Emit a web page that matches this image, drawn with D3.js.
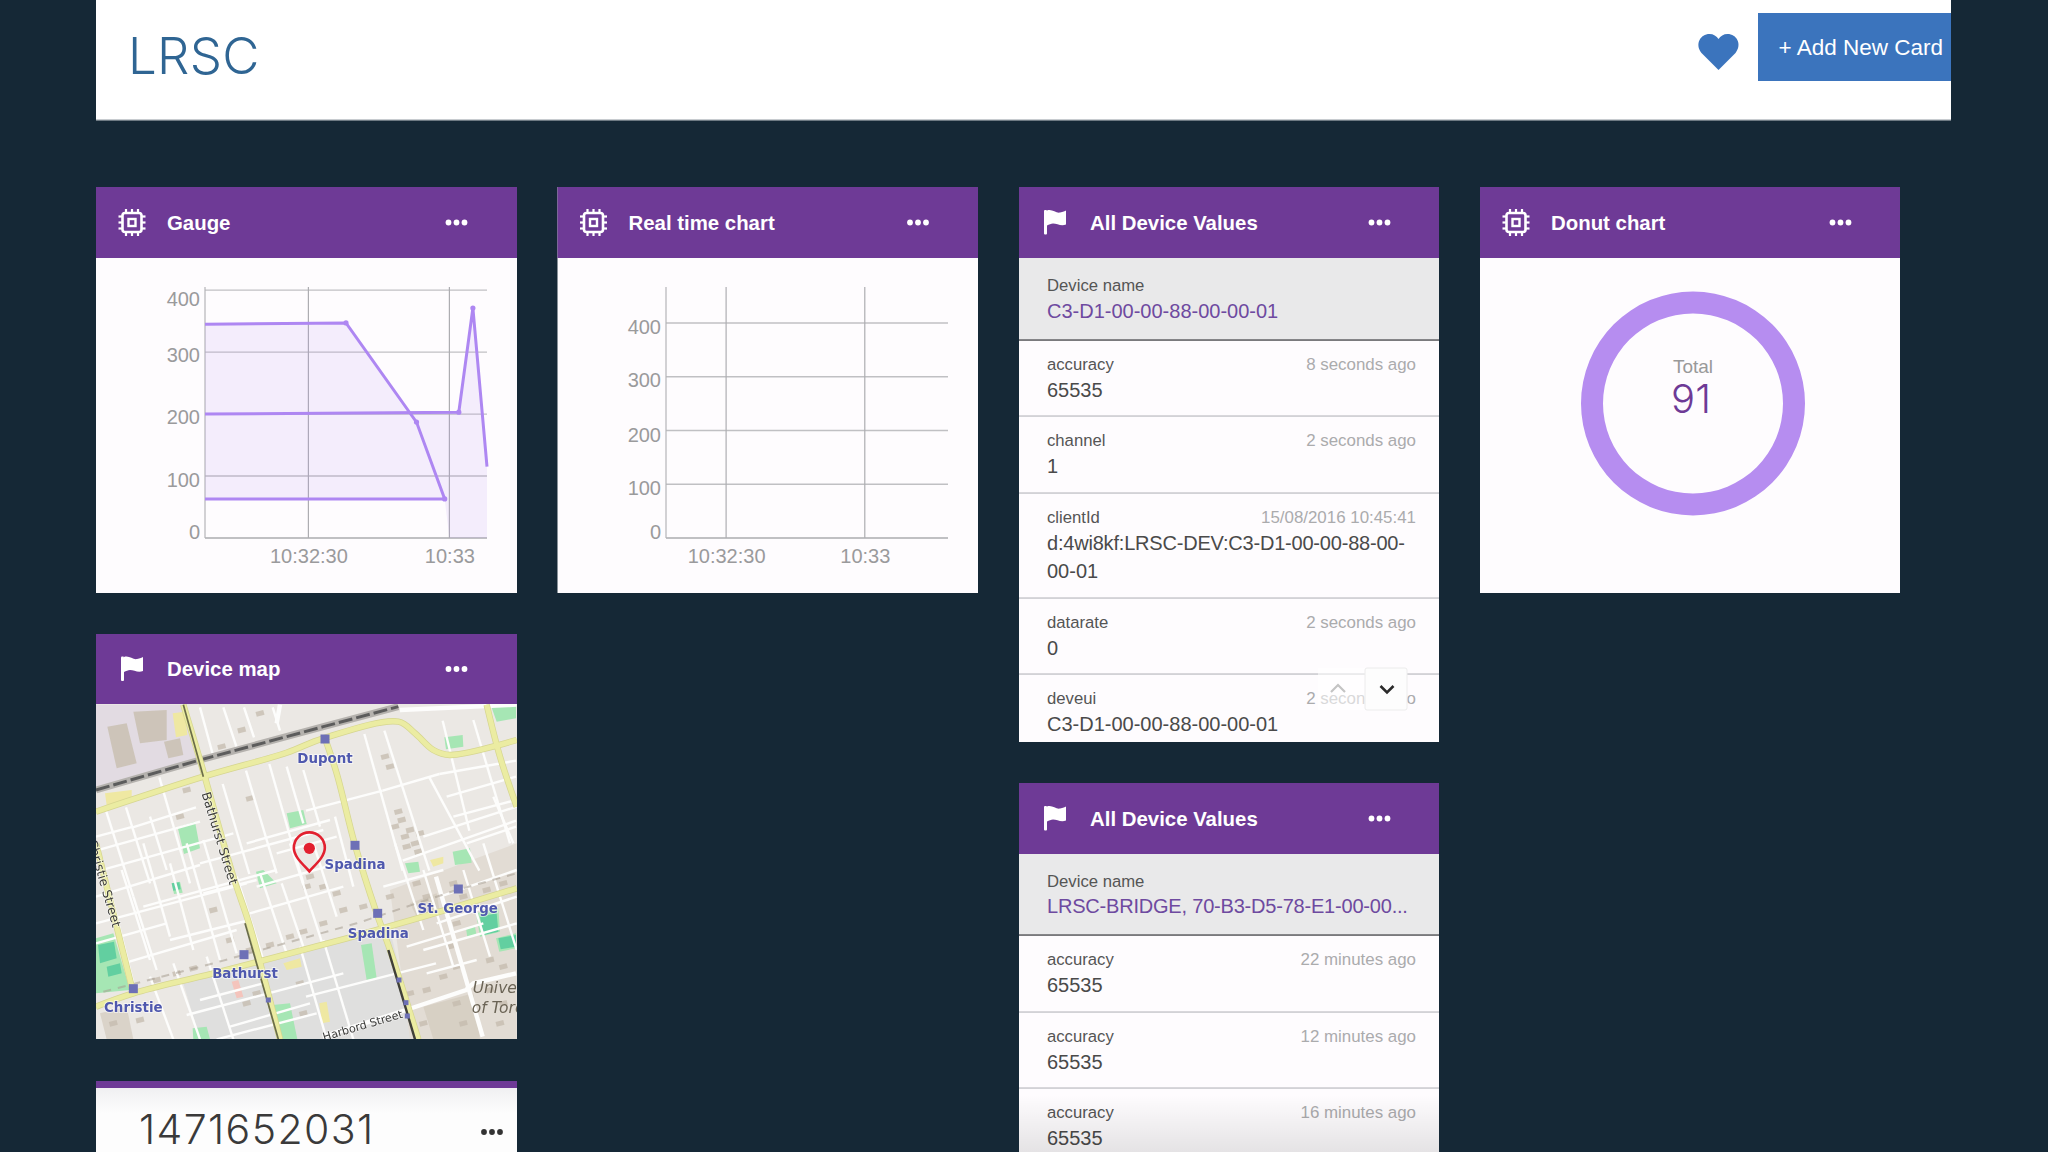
<!DOCTYPE html>
<html><head><meta charset="utf-8">
<script src="https://cdnjs.cloudflare.com/ajax/libs/d3/7.8.5/d3.min.js"></script>
<style>
html,body{margin:0;padding:0;background:#152836;overflow:hidden}
text{font-family:"Liberation Sans",Arial,sans-serif}
</style></head><body><svg id="c" width="2048" height="1152" xmlns="http://www.w3.org/2000/svg"></svg>
<script>
// ---------- chart data ----------
const yTicks = [0,100,200,300,400];
const xTickTimes = ["10:32:30","10:33:00"];
const xTickLabels = ["10:32:30","10:33"];
const lineTopTimes = ["10:32:08","10:32:38","10:32:53","10:32:59"];
const lineTopValues = [345,347,187,63];
const lineLowTimes = ["10:32:08","10:32:59"];
const lineLowValues = [63,63];
const lineMidTimes = ["10:32:08","10:33:02","10:33:05","10:33:08"];
const lineMidValues = [200,203,371,115];
const fillTimes = ["10:32:08","10:32:38","10:32:51","10:32:59","10:33:00","10:33:02","10:33:05","10:33:08"];
const fillLow = [63,63,63,63,0,0,0,0];
const fillHigh = [345,347,203,203,203,203,371,115];
const markTimes = ["10:32:38","10:32:53","10:32:59","10:33:02","10:33:05"];
const markValues = [347,187,63,203,371];
const donutValues = [91];
const donutTotalLabel = "Total";
const cardTitles = ["Gauge","Real time chart","All Device Values","Donut chart","Device map","All Device Values"];
const device1Name = "C3-D1-00-00-88-00-00-01";
const device1Keys = ["accuracy","channel","clientId","datarate","deveui"];
const device1Vals = [["65535"],["1"],["d:4wi8kf:LRSC-DEV:C3-D1-00-00-88-00-","00-01"],["0"],["C3-D1-00-00-88-00-00-01"]];
const device1Times = ["8 seconds ago","2 seconds ago","15/08/2016 10:45:41","2 seconds ago","2 seconds ago"];
const device2Name = "LRSC-BRIDGE, 70-B3-D5-78-E1-00-00...";
const device2Keys = ["accuracy","accuracy","accuracy"];
const device2Vals = [["65535"],["65535"],["65535"]];
const device2Times = ["22 minutes ago","12 minutes ago","16 minutes ago"];

// ---------- map content (reference grid units) ----------
const mapYellowRoads = [
 [[18,545],[340,440],[590,368],[700,325],[925,275],[975,310],[1030,360],[1080,375],[1280,330]],
 [[705,325],[740,430],[795,645],[860,850],[900,960],[985,1228]],
 [[280,224],[330,390],[430,740],[480,890],[570,1228]],
 [[18,1130],[130,1090],[370,1030],[770,925],[1000,860],[1280,775]],
 [[18,640],[70,850],[130,1090]],
 [[1190,224],[1230,380],[1280,530]]
];
const mapNS = [[48,542,130,800],[108,532,180,760],[160,640,240,920],[208,442,300,760],[290,640,390,990],[340,630,440,970],
 [398,462,478,732],[468,422,560,730],[538,402,640,760],[600,640,700,950],[670,640,740,860],[735,560,790,770],
 [823,312,938,722],[883,302,1018,722],[915,640,1000,900],[1018,442,1168,722],[1058,272,1138,602],
 [180,1040,250,1228],[250,1000,330,1228],[350,980,430,1228],[630,950,710,1228],[700,930,790,1228],[1150,270,1260,640],
 [330,232,368,372],[400,232,440,352],[462,232,492,322],[548,232,570,302],[95,720,180,990],
 [440,740,520,990],[510,730,590,970],[575,760,640,950],[640,420,690,590],[590,410,640,580],
 [60,780,130,1060],[130,800,200,1020],[240,700,310,960],[180,560,230,720],
 [1000,720,1090,1010],[1120,720,1200,980],[1180,640,1280,960],[1210,500,1270,640]];
const mapEW = [[128,592,318,532],[18,662,330,575],[18,725,430,610],[18,800,330,705],[160,830,560,720],[18,880,470,760],
 [470,640,720,570],[648,542,878,482],[878,482,1048,432],[1048,432,1278,392],[1070,500,1278,440],[1090,560,1278,510],[1130,640,1278,590],
 [938,692,1278,572],[500,770,780,690],[240,930,480,870],[100,1000,440,900],[880,770,1060,720],
 [290,1155,760,1030],[648,1100,1038,1000],[380,1228,680,1150],[950,950,1180,880],[1010,1030,1160,990],
 [18,620,130,590],[330,700,700,600],[480,850,760,770],[18,940,230,880],[560,670,740,620],[340,790,500,750],
 [1000,620,1280,530],[1050,800,1280,720],[1040,880,1280,800],[1000,960,1280,880],[330,1110,520,1060],[420,1190,660,1120]];
const mapThickWhite = [[[1038,740],[1178,1220]],[[698,1220],[948,1140],[1128,1080],[1150,1060],[1278,1030]],[[930,240],[1280,224]],[[560,280],[570,224]]];
const mapParks = [
 [[263,592],[315,575],[330,655],[282,672]],[[590,550],[640,540],[650,582],[600,595]],[[245,760],[270,755],[278,788],[252,792]],
 [[498,725],[520,720],[560,760],[510,775]],[[18,925],[70,910],[120,1080],[18,1090]],[[548,1125],[600,1120],[622,1228],[565,1228]],
 [[308,1195],[350,1190],[360,1228],[310,1228]],[[1158,850],[1225,835],[1230,905],[1170,920]],[[1218,925],[1278,910],[1278,955],[1228,965]],
 [[1128,895],[1155,890],[1160,918],[1132,922]],[[1063,322],[1118,315],[1120,350],[1068,358]],[[1088,665],[1140,655],[1145,698],[1095,705]],
 [[1203,227],[1278,227],[1278,265],[1220,275]],[[813,945],[845,940],[860,1045],[830,1050]],[[945,700],[985,695],[990,725],[955,730]]];
const mapDarkParks = [[[24,945],[72,935],[80,985],[30,1000]],[[50,1010],[90,1000],[95,1030],[55,1040]],[[1170,860],[1220,850],[1225,905],[1180,915]],[[1225,925],[1278,915],[1278,950],[1232,958]],[[245,760],[268,757],[272,778],[250,782]]];
const mapTan = [[[52,290],[110,280],[140,400],[80,415]],[[130,245],[230,240],[230,330],[150,340]],[[222,335],[270,325],[280,375],[235,385]]];
const mapTanSoft = [[[1000,1130],[1150,1090],[1170,1228],[1030,1228]],[[30,1150],[110,1130],[130,1228],[50,1228]],[[960,820],[1040,790],[1050,850],[980,860]]];
const mapYellowBlocks = [[[248,250],[285,245],[292,315],[258,322]],[[45,490],[125,480],[125,505],[50,525]],[[688,1120],[710,1115],[720,1175],[695,1180]],[[580,1000],[630,985],[635,1010],[590,1020]],[[1020,690],[1060,680],[1060,700],[1030,710]]];
const mapPinkBlocks = [[[425,1055],[445,1050],[460,1100],[440,1105]]];
const mapSmallBlocks = [[915,590],[935,570],[945,620],[960,600],[950,650],[975,640],[985,665],[990,610],[925,545],[885,380],[900,410],
 [1090,760],[1120,800],[1190,780],[1240,760],[1100,880],[1080,950],[1200,990],[1240,1010],[1100,1010],[1060,1040],[1200,1080],[1240,1120],[1230,1180],[1100,1120],[1120,1180],
 [980,760],[1010,800],[900,800],[820,830],[760,840],[700,880],[640,905],[600,920],[540,945],[480,960],[310,1015],[260,1030],[200,1050],
 [480,505],[270,560],[290,480],[395,350],[455,300],[510,250],[650,770],[700,770],[740,790],[660,740],[500,1090],[470,1120],[630,1060],[640,1150],
 [420,930],[370,840],[150,1170],[70,1180],[1000,1180],[960,1090],[1010,1080]];
const mapSouthGrey = [[280,1060],[900,900],[980,1228],[330,1228]];
const mapEastTan = [[900,780],[1280,640],[1280,1228],[960,1228]];
const mapRail = [[18,480],[330,390],[700,290],[925,230]];
const mapRailSouth = [[40,1085],[370,1000],[800,880],[1100,780],[1280,730]];
const mapTram = [[[895,960],[975,1228]],[[465,880],[540,1140],[565,1228]],[[280,224],[340,440]]];
const mapStations = [[705,327],[795,646],[1105,777],[863,850],[462,974],[130,1076]];
const mapSmallStations = [[535,1110],[927,1050],[948,1118],[952,1158]];
const mapStationNames = ["Dupont","Spadina","St. George","Spadina","Bathurst","Christie"];
const mapStationLabelPos = [[705,383],[795,703],[1103,833],[865,908],[465,1030],[130,1132]];
const mapStreetNames = ["Bathurst Street","Christie Street","Harbord Street"];
const mapStreetPos = [[388,625,73],[42,760,74],[818,1186,-16.5]];
const mapStreetSizes = [12.6,12.6,11.2];
const mapAreaNames = ["University","of Toronto"];
const mapAreaPos = [[1148,1090],[1145,1148]];

// ---------- setup ----------
const svg = d3.select("#c");
const PURPLE="#6e3a96", CARD="#fefcfe", BLUE="#3b74bd", LILAC="#ae87f2";
const t = d3.timeParse("%H:%M:%S");
svg.append("rect").attr("width",2048).attr("height",1152).attr("fill","#152836");

// top bar
svg.append("rect").attr("x",96).attr("y",0).attr("width",1855).attr("height",120).attr("fill","#fff");
svg.append("rect").attr("x",96).attr("y",119).attr("width",1855).attr("height",1.5).attr("fill","#c8ccd0");
svg.append("text").attr("x",128).attr("y",74).text("LRSC").attr("fill","#2f6593")
  .style("font-family","Inter,'Liberation Sans'").attr("font-weight",300).attr("font-size",51).attr("letter-spacing",0.3);
svg.append("path").attr("transform","translate(1718.5,34)").attr("fill",BLUE)
  .attr("d","M0,36 L-17,19 C-24,10 -18,0 -9,0 C-5,0 -2,2 0,5 C2,2 5,0 9,0 C18,0 24,10 17,19 Z");
svg.append("rect").attr("x",1758).attr("y",13).attr("width",193).attr("height",68).attr("fill",BLUE);
svg.append("text").attr("x",1778.5).attr("y",55).text("+ Add New Card").attr("fill","#fff").attr("font-size",22.5);

function chipIcon(g,cx,cy){
  const i=g.append("g").attr("transform",`translate(${cx},${cy})`).attr("fill","none").attr("stroke","#fff");
  i.append("rect").attr("x",-9.5).attr("y",-9.5).attr("width",19).attr("height",19).attr("rx",2.5).attr("stroke-width",2.6);
  i.append("rect").attr("x",-3.5).attr("y",-3.5).attr("width",7).attr("height",7).attr("stroke-width",2.4);
  [-6,0,6].forEach(d=>{
    i.append("line").attr("x1",d).attr("x2",d).attr("y1",-13.5).attr("y2",-10).attr("stroke-width",2.2);
    i.append("line").attr("x1",d).attr("x2",d).attr("y1",10).attr("y2",13.5).attr("stroke-width",2.2);
    i.append("line").attr("y1",d).attr("y2",d).attr("x1",-13.5).attr("x2",-10).attr("stroke-width",2.2);
    i.append("line").attr("y1",d).attr("y2",d).attr("x1",10).attr("x2",13.5).attr("stroke-width",2.2);
  });
}
function flagIcon(g,cx,cy){
  const i=g.append("g").attr("transform",`translate(${cx},${cy})`).attr("fill","#fff");
  i.append("rect").attr("x",-11).attr("y",-12.5).attr("width",3).attr("height",24.5).attr("rx",1);
  i.append("path").attr("d","M-8,-12 C-3,-14 1,-9 5,-10 C8,-10.5 10,-11.5 11,-12 L11,2 C6,4 2,1 -2,1 C-4,1 -6,2 -8,3 Z");
}
function card(x,y,w,h,title,icon,headH=71){
  const g=svg.append("g");
  g.append("rect").attr("x",x).attr("y",y).attr("width",w).attr("height",h).attr("fill",CARD);
  g.append("rect").attr("x",x).attr("y",y).attr("width",w).attr("height",headH).attr("fill",PURPLE);
  const cy=y+headH/2;
  (icon==="chip"?chipIcon:flagIcon)(g,x+36,cy);
  g.append("text").attr("x",x+71).attr("y",cy+7.4).text(title).attr("fill","#fff").attr("font-weight",700).attr("font-size",20.4);
  [-8,0,8].forEach(d=>g.append("circle").attr("cx",x+360.5+d).attr("cy",cy).attr("r",2.9).attr("fill","#fff"));
  return g;
}

// chart helper
function chart(g,{left,right,top,bottom,yMax,xDomain,labelDy}){
  const x=d3.scaleTime().domain(xDomain.map(t)).range([left,right]);
  const y=d3.scaleLinear().domain([0,yMax]).range([bottom,top]);
  const grid=g.append("g");
  grid.selectAll("line.h").data(yTicks).join("line").attr("x1",left).attr("x2",right)
    .attr("y1",d=>y(d)).attr("y2",d=>y(d)).attr("stroke","#c0c0c3").attr("stroke-width",d=>d===0?1.8:1.3);
  grid.selectAll("line.v").data(xTickTimes).join("line").attr("y1",top).attr("y2",bottom)
    .attr("x1",d=>x(t(d))).attr("x2",d=>x(t(d))).attr("stroke","#adadb1").attr("stroke-width",1.2);
  grid.append("line").attr("x1",left).attr("x2",left).attr("y1",top).attr("y2",bottom).attr("stroke","#b4b4b8").attr("stroke-width",1.2);
  const yA=g.append("g").attr("transform",`translate(${left},0)`).call(d3.axisLeft(y).tickValues(yTicks).tickSize(0).tickPadding(5));
  yA.select(".domain").remove();
  yA.selectAll("text").attr("fill","#9a9a9c").attr("font-size",20).attr("dy",(d,i)=>labelDy[i]);
  const xA=g.append("g").attr("transform",`translate(0,${bottom})`).call(d3.axisBottom(x).tickValues(xTickTimes.map(t)).tickSize(0).tickPadding(10.5)
      .tickFormat((d,i)=>xTickLabels[i]));
  xA.select(".domain").remove();
  xA.selectAll("text").attr("fill","#9a9a9c").attr("font-size",20);
  return {x,y};
}

// gauge
const gGauge=card(96,187,421,406,cardTitles[0],"chip");
const gs=chart(gGauge,{left:205,right:487,top:287,bottom:538,yMax:405,xDomain:["10:32:08","10:33:08"],labelDy:[0,10,9,9,15]});
gGauge.append("path").datum(fillTimes.map((d,i)=>({t:t(d),lo:fillLow[i],hi:fillHigh[i]})))
  .attr("fill","#b088f0").attr("opacity",.13)
  .attr("d",d3.area().x(d=>gs.x(d.t)).y0(d=>gs.y(d.lo)).y1(d=>gs.y(d.hi)));
const gLine=d3.line().x(d=>gs.x(d.t)).y(d=>gs.y(d.v));
[[lineTopTimes,lineTopValues],[lineLowTimes,lineLowValues],[lineMidTimes,lineMidValues]].forEach(([ts,vs])=>{
  gGauge.append("path").datum(ts.map((d,i)=>({t:t(d),v:vs[i]}))).attr("fill","none").attr("stroke",LILAC).attr("stroke-width",3).attr("d",gLine);
});
gGauge.selectAll("circle.m").data(markTimes).join("circle").attr("cx",d=>gs.x(t(d))).attr("cy",(d,i)=>gs.y(markValues[i])).attr("r",2.6).attr("fill",LILAC);

// real time chart
const gReal=card(557.5,187,420.5,406,cardTitles[1],"chip");
chart(gReal,{left:666,right:948,top:287,bottom:538,yMax:467,xDomain:["10:32:17","10:33:18"],labelDy:[0,10,11,10,10]});

// device value cards
function deviceCard(y,h,title,bandBottom,name,keys,vals,times,rowTops,sepYs,nameY,valY){
  const g=card(1019,y,420,h,title,"flag");
  g.append("rect").attr("x",1019).attr("y",y+71).attr("width",420).attr("height",bandBottom-y-71).attr("fill","#e9e9ea");
  g.append("rect").attr("x",1019).attr("y",bandBottom-.7).attr("width",420).attr("height",1.5).attr("fill","#5a5a5e");
  g.append("text").attr("x",1047).attr("y",nameY).text("Device name").attr("fill","#555").attr("font-size",16.7);
  g.append("text").attr("x",1047).attr("y",valY).text(name).attr("fill","#6e4aa0").attr("font-size",20).attr("letter-spacing",name.length>30?-0.2:0);
  sepYs.forEach(s=>g.append("rect").attr("x",1019).attr("y",s-.7).attr("width",420).attr("height",1.5).attr("fill","#c8c8cc"));
  keys.forEach((k,i)=>{
    const r=rowTops[i];
    g.append("text").attr("x",1047).attr("y",r+30).text(k).attr("fill","#555").attr("font-size",16.7);
    vals[i].forEach((v,j)=>g.append("text").attr("x",1047).attr("y",r+57+j*27.5).text(v).attr("fill","#4a4a4a").attr("font-size",20).attr("letter-spacing",v.length>30?-0.2:0));
    g.append("text").attr("x",1416).attr("y",r+30).attr("text-anchor","end").text(times[i]).attr("fill","#ababad").attr("font-size",16.9);
  });
  return g;
}
const d1=deviceCard(187,555,cardTitles[2],340,device1Name,device1Keys,device1Vals,device1Times,[340,416,493,598,674],[416,493,598,674],291,318);
// scroll arrows overlay
d1.append("rect").attr("x",1318).attr("y",668).attr("width",47).attr("height",42).attr("fill","#fff").attr("opacity",.55);
d1.append("path").attr("d","M1331,692 L1338,685 L1345,692").attr("fill","none").attr("stroke","#c4c4c4").attr("stroke-width",2.2);
d1.append("rect").attr("x",1365).attr("y",668).attr("width",42).attr("height",42).attr("rx",2).attr("fill","#fdfdfd").attr("stroke","#ececec");
d1.append("path").attr("d","M1380.5,686 L1387,692.5 L1393.5,686").attr("fill","none").attr("stroke","#2a2a2a").attr("stroke-width",2.6);
const d2=deviceCard(783,369,cardTitles[5],935,device2Name,device2Keys,device2Vals,device2Times,[935,1012,1088],[1012,1088],887,913);

// donut
const gDonut=card(1480,187,420,406,cardTitles[3],"chip");
const pie=d3.pie().sort(null)(donutValues);
const arc=d3.arc().innerRadius(90).outerRadius(112);
gDonut.append("g").attr("transform","translate(1693,403.5)").selectAll("path").data(pie).join("path").attr("d",arc).attr("fill","#b68df0");
gDonut.append("text").attr("x",1693).attr("y",372.5).attr("text-anchor","middle").text(donutTotalLabel).attr("fill","#999").attr("font-size",19);
gDonut.append("text").attr("x",1691).attr("y",413).attr("text-anchor","middle").text(d3.sum(donutValues)).attr("fill","#6e3a96").attr("font-size",40)
  .style("font-family","Inter,'Liberation Sans'").attr("font-weight",300);

// device map
card(96,634,421,405,cardTitles[4],"flag",70);
const defs=svg.append("defs");
defs.append("clipPath").attr("id","mapClip").append("rect").attr("x",96).attr("y",704).attr("width",421).attr("height",335);
defs.append("filter").attr("id","soft").append("feGaussianBlur").attr("stdDeviation",.7);
defs.append("filter").attr("id","softText").append("feGaussianBlur").attr("stdDeviation",.35);
const mx=d3.scaleLinear().domain([18,1280]).range([96,516.67]);
const my=d3.scaleLinear().domain([224,1228]).range([704.67,1039.33]);
const mapLine=d3.line().x(d=>mx(d[0])).y(d=>my(d[1]));
const mapCurve=d3.line().x(d=>mx(d[0])).y(d=>my(d[1])).curve(d3.curveCatmullRom.alpha(.5));
const m=svg.append("g").attr("clip-path","url(#mapClip)");
const mb=m.append("g").attr("filter","url(#soft)");
mb.append("rect").attr("x",90).attr("y",698).attr("width",434).attr("height",348).attr("fill","#ebe8e4");
const polys=(arr,fill,op=1)=>mb.append("g").selectAll("path").data(arr).join("path").attr("d",d=>mapLine(d)+"Z").attr("fill",fill).attr("opacity",op);
polys([[[18,224],[280,224],[320,390],[18,470]]],"#e2dbe2");
polys([mapSouthGrey],"#dfdfde");
polys([mapEastTan],"#e2dcd4");
polys(mapTan,"#cbc3b6",.95);
polys(mapTanSoft,"#d3cabd",.7);
polys(mapYellowBlocks,"#efe8a2");
polys(mapPinkBlocks,"#f4c4bc");
polys(mapParks,"#a6e6b4");
polys(mapDarkParks,"#62cfa0");
mb.append("g").selectAll("rect").data(mapSmallBlocks).join("rect")
  .attr("x",d=>mx(d[0])-4).attr("y",d=>my(d[1])-2.5).attr("width",8).attr("height",5)
  .attr("transform",d=>`rotate(-15,${mx(d[0])},${my(d[1])})`).attr("fill","#c4bbae").attr("opacity",.75);
const segs=(arr,stroke,w)=>mb.append("g").selectAll("line").data(arr).join("line")
  .attr("x1",d=>mx(d[0])).attr("y1",d=>my(d[1])).attr("x2",d=>mx(d[2])).attr("y2",d=>my(d[3])).attr("stroke",stroke).attr("stroke-width",w);
segs(mapNS,"#fdfdfc",2.4);
segs(mapEW,"#fdfdfc",2.4);
mb.append("g").selectAll("path").data(mapThickWhite).join("path").attr("d",mapLine).attr("fill","none").attr("stroke","#fdfdfc").attr("stroke-width",4.4);
mb.append("path").datum(mapRailSouth).attr("d",mapLine).attr("fill","none").attr("stroke","#a59c90").attr("stroke-width",2).attr("stroke-dasharray","8 7").attr("opacity",.55);
mb.append("path").datum(mapRail).attr("d",mapLine).attr("fill","none").attr("stroke","#b5b2ae").attr("stroke-width",7);
mb.append("path").datum(mapRail).attr("d",mapLine).attr("fill","none").attr("stroke","#5c5c5c").attr("stroke-width",3).attr("stroke-dasharray","14 4");
mb.append("g").selectAll("path").data(mapYellowRoads).join("path").attr("d",mapCurve).attr("fill","none").attr("stroke","#d6d690").attr("stroke-width",6.4);
mb.append("g").selectAll("path").data(mapYellowRoads).join("path").attr("d",mapCurve).attr("fill","none").attr("stroke","#ebeca2").attr("stroke-width",5);
mb.append("g").selectAll("path").data(mapTram.slice(1)).join("path").attr("d",mapLine).attr("fill","none").attr("stroke","#6b6d48").attr("stroke-width",1.7);
mb.append("path").datum(mapTram[0]).attr("d",mapLine).attr("fill","none").attr("stroke","#3f3f38").attr("stroke-width",2.4);
const st=(arr,s,fill)=>mb.append("g").selectAll("rect").data(arr).join("rect").attr("x",d=>mx(d[0])-s/2).attr("y",d=>my(d[1])-s/2).attr("width",s).attr("height",s).attr("fill",fill);
st(mapStations,9,"#6d70b6");
st(mapSmallStations,5,"#6d70b6");
const lab=m.append("g").attr("filter","url(#softText)");
lab.selectAll("text.st").data(mapStationNames).join("text").attr("x",(d,i)=>mx(mapStationLabelPos[i][0])).attr("y",(d,i)=>my(mapStationLabelPos[i][1])+5)
  .attr("text-anchor","middle").text(d=>d).attr("fill","#5059ae").attr("font-weight",700).attr("font-size",13.4)
  .style("font-family","'DejaVu Sans'").attr("stroke","#fff").attr("stroke-width",2).attr("stroke-opacity",.55).attr("paint-order","stroke");
lab.selectAll("text.sn").data(mapStreetNames).join("text")
  .attr("transform",(d,i)=>`translate(${mx(mapStreetPos[i][0])},${my(mapStreetPos[i][1])}) rotate(${mapStreetPos[i][2]})`)
  .attr("text-anchor","middle").attr("dy",4).text(d=>d).attr("fill","#3c3c3a").attr("font-size",(d,i)=>mapStreetSizes[i])
  .style("font-family","'DejaVu Sans'").attr("stroke","#fff").attr("stroke-width",1.5).attr("stroke-opacity",.5).attr("paint-order","stroke");
lab.selectAll("text.an").data(mapAreaNames).join("text").attr("x",(d,i)=>mx(mapAreaPos[i][0])).attr("y",(d,i)=>my(mapAreaPos[i][1]))
  .text(d=>d).attr("fill","#6b6455").attr("font-style","italic").attr("font-size",15.5).style("font-family","'DejaVu Sans'");
// pin
const pin=m.append("g").attr("transform",`translate(${mx(658)},${my(655)})`);
pin.append("path").attr("d","M0,23 C-5,17 -15.5,9 -15.5,-0.5 A15.5,15.5 0 1 1 15.5,-0.5 C15.5,9 5,17 0,23 Z").attr("fill","none").attr("stroke","#e2202f").attr("stroke-width",2.6);
pin.append("circle").attr("r",5.6).attr("fill","#e2202f");

// bottom value card
const numGrad=defs.append("linearGradient").attr("id","numG").attr("x1",0).attr("y1",0).attr("x2",0).attr("y2",1);
numGrad.append("stop").attr("offset",0).attr("stop-color","#ececee");
numGrad.append("stop").attr("offset",.45).attr("stop-color","#fdfdfd");
svg.append("rect").attr("x",96).attr("y",1081).attr("width",421).attr("height",71).attr("fill","url(#numG)");
svg.append("rect").attr("x",96).attr("y",1081).attr("width",421).attr("height",7).attr("fill",PURPLE);
svg.append("text").attr("x",139).attr("y",1143.5).text("1471652031").attr("fill","#3a3a3a").attr("font-size",41)
  .attr("letter-spacing",1.4).style("font-family","Inter,'Liberation Sans'").attr("font-weight",300);
[-8,0,8].forEach(d=>svg.append("circle").attr("cx",492+d).attr("cy",1132).attr("r",2.9).attr("fill","#333"));

// bottom fade
const fade=defs.append("linearGradient").attr("id","fade").attr("x1",0).attr("y1",0).attr("x2",0).attr("y2",1);
fade.append("stop").attr("offset",0).attr("stop-color","#000").attr("stop-opacity",0);
fade.append("stop").attr("offset",1).attr("stop-color","#000").attr("stop-opacity",.1);
svg.append("rect").attr("x",1019).attr("y",1095).attr("width",420).attr("height",57).attr("fill","url(#fade)");
</script></body></html>
